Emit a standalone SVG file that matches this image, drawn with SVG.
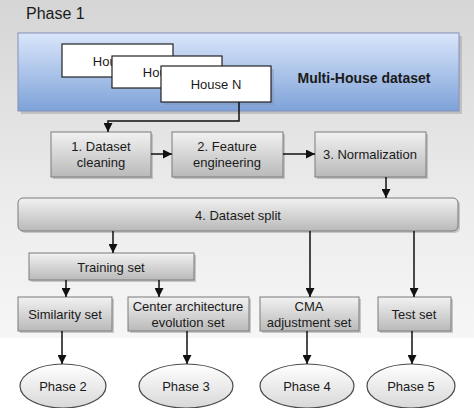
<svg xmlns="http://www.w3.org/2000/svg" width="474" height="408" viewBox="0 0 474 408">
<defs>
<linearGradient id="bg" x1="0" y1="0" x2="0" y2="1">
<stop offset="0" stop-color="#d5d5d5"/>
<stop offset="0.6" stop-color="#ececec"/>
<stop offset="1" stop-color="#f6f6f6"/>
</linearGradient>
<linearGradient id="blue" x1="0" y1="0" x2="0" y2="1">
<stop offset="0" stop-color="#dae6fb"/>
<stop offset="1" stop-color="#7ea2d8"/>
</linearGradient>
<linearGradient id="box" x1="0" y1="0" x2="0" y2="1">
<stop offset="0" stop-color="#f2f2f2"/>
<stop offset="1" stop-color="#b9b9b9"/>
</linearGradient>
<linearGradient id="ell" x1="0" y1="0" x2="0" y2="1">
<stop offset="0" stop-color="#ffffff"/>
<stop offset="1" stop-color="#d8d8d8"/>
</linearGradient>
<marker id="ah" viewBox="0 0 10 10" refX="10" refY="5" markerWidth="9" markerHeight="9" markerUnits="userSpaceOnUse" orient="auto">
<path d="M0,0 L10,5 L0,10 z" fill="#111"/>
</marker>
</defs>
<style>
text{font-family:"Liberation Sans",Arial,sans-serif;font-size:13px;fill:#1a1a1a;text-anchor:middle}
.bx{fill:url(#box);stroke:#7a7a7a;stroke-width:1}
.sh{fill:#9a9a9a;opacity:0.5}
.hs{fill:#ffffff;stroke:#222;stroke-width:1.2}
.el{fill:url(#ell);stroke:#4a4a4a;stroke-width:1.2}
.cn{fill:none;stroke:#111;stroke-width:1.5;marker-end:url(#ah)}
.ln{fill:none;stroke:#111;stroke-width:1.5}
</style>
<rect x="0" y="0" width="474" height="408" fill="#ffffff"/>
<rect x="0" y="0" width="474" height="338" fill="url(#bg)"/>
<text x="26" y="19" style="font-size:16px;text-anchor:start">Phase 1</text>

<g id="dataset">
<rect x="21" y="36" width="441" height="78" fill="#a0a0a0" opacity="0.5"/>
<rect x="18" y="33" width="441" height="78" fill="url(#blue)" stroke="#8490b8" stroke-width="1"/>
<text x="364" y="83" style="font-weight:bold;font-size:14px">Multi-House dataset</text>
</g>
<g id="house1">
<rect x="62" y="44" width="111" height="33" class="hs"/>
<text x="117" y="66">House 1</text>
</g>
<g id="house2">
<rect x="112" y="56" width="110" height="32" class="hs"/>
<text x="167" y="77">House 2</text>
</g>
<g id="houseN">
<rect x="164" y="69" width="110" height="36" fill="#7f8faf" opacity="0.4"/>
<rect x="161" y="66" width="110" height="36" class="hs"/>
<text x="216" y="89">House N</text>
</g>

<g id="clean">
<rect x="53" y="134" width="100" height="45" class="sh"/>
<rect x="51" y="132" width="100" height="45" class="bx"/>
<text x="101" y="151">1. Dataset</text>
<text x="101" y="167">cleaning</text>
</g>
<g id="feature">
<rect x="174" y="134" width="111" height="45" class="sh"/>
<rect x="172" y="132" width="111" height="45" class="bx"/>
<text x="227" y="151">2. Feature</text>
<text x="227" y="167">engineering</text>
</g>
<g id="norm">
<rect x="317" y="134" width="111" height="45" class="sh"/>
<rect x="315" y="132" width="111" height="45" class="bx"/>
<text x="370" y="159">3. Normalization</text>
</g>
<g id="split">
<rect x="20" y="200" width="440" height="33" rx="5" class="sh"/>
<rect x="18" y="198" width="440" height="33" rx="5" class="bx"/>
<text x="238" y="220">4. Dataset split</text>
</g>
<g id="training">
<rect x="31" y="255" width="165" height="27" class="sh"/>
<rect x="29" y="253" width="165" height="27" class="bx"/>
<text x="111" y="272">Training set</text>
</g>
<g id="similarity">
<rect x="20" y="299" width="94" height="34" class="sh"/>
<rect x="18" y="297" width="94" height="34" class="bx"/>
<text x="65" y="319">Similarity set</text>
</g>
<g id="center">
<rect x="130" y="299" width="121" height="34" class="sh"/>
<rect x="128" y="297" width="121" height="34" class="bx"/>
<text x="188" y="311">Center architecture</text>
<text x="188" y="327">evolution set</text>
</g>
<g id="cma">
<rect x="262" y="299" width="99" height="34" class="sh"/>
<rect x="260" y="297" width="99" height="34" class="bx"/>
<text x="309" y="311">CMA</text>
<text x="309" y="327">adjustment set</text>
</g>
<g id="test">
<rect x="380" y="299" width="73" height="34" class="sh"/>
<rect x="378" y="297" width="73" height="34" class="bx"/>
<text x="414" y="319">Test set</text>
</g>

<g id="phase2">
<ellipse cx="63" cy="386" rx="43" ry="22" class="el"/>
<text x="63" y="391">Phase 2</text>
</g>
<g id="phase3">
<ellipse cx="186" cy="386" rx="47" ry="22" class="el"/>
<text x="186" y="391">Phase 3</text>
</g>
<g id="phase4">
<ellipse cx="307" cy="386" rx="47" ry="22" class="el"/>
<text x="307" y="391">Phase 4</text>
</g>
<g id="phase5">
<ellipse cx="411" cy="386" rx="44" ry="22" class="el"/>
<text x="411" y="391">Phase 5</text>
</g>

<g id="connectors">
<path d="M239,102 V121 H108 V132" class="cn"/>
<path d="M151,154 H172" class="cn"/>
<path d="M283,154 H315" class="cn"/>
<path d="M386,177 V198" class="cn"/>
<path d="M113,231 V253" class="cn"/>
<path d="M66,280 V297" class="cn"/>
<path d="M159,280 V297" class="cn"/>
<path d="M310,231 V297" class="cn"/>
<path d="M414,231 V297" class="cn"/>
<path d="M62,331 V364" class="cn"/>
<path d="M187,331 V364" class="cn"/>
<path d="M307,331 V364" class="cn"/>
<path d="M412,331 V364" class="cn"/>
</g>
</svg>
